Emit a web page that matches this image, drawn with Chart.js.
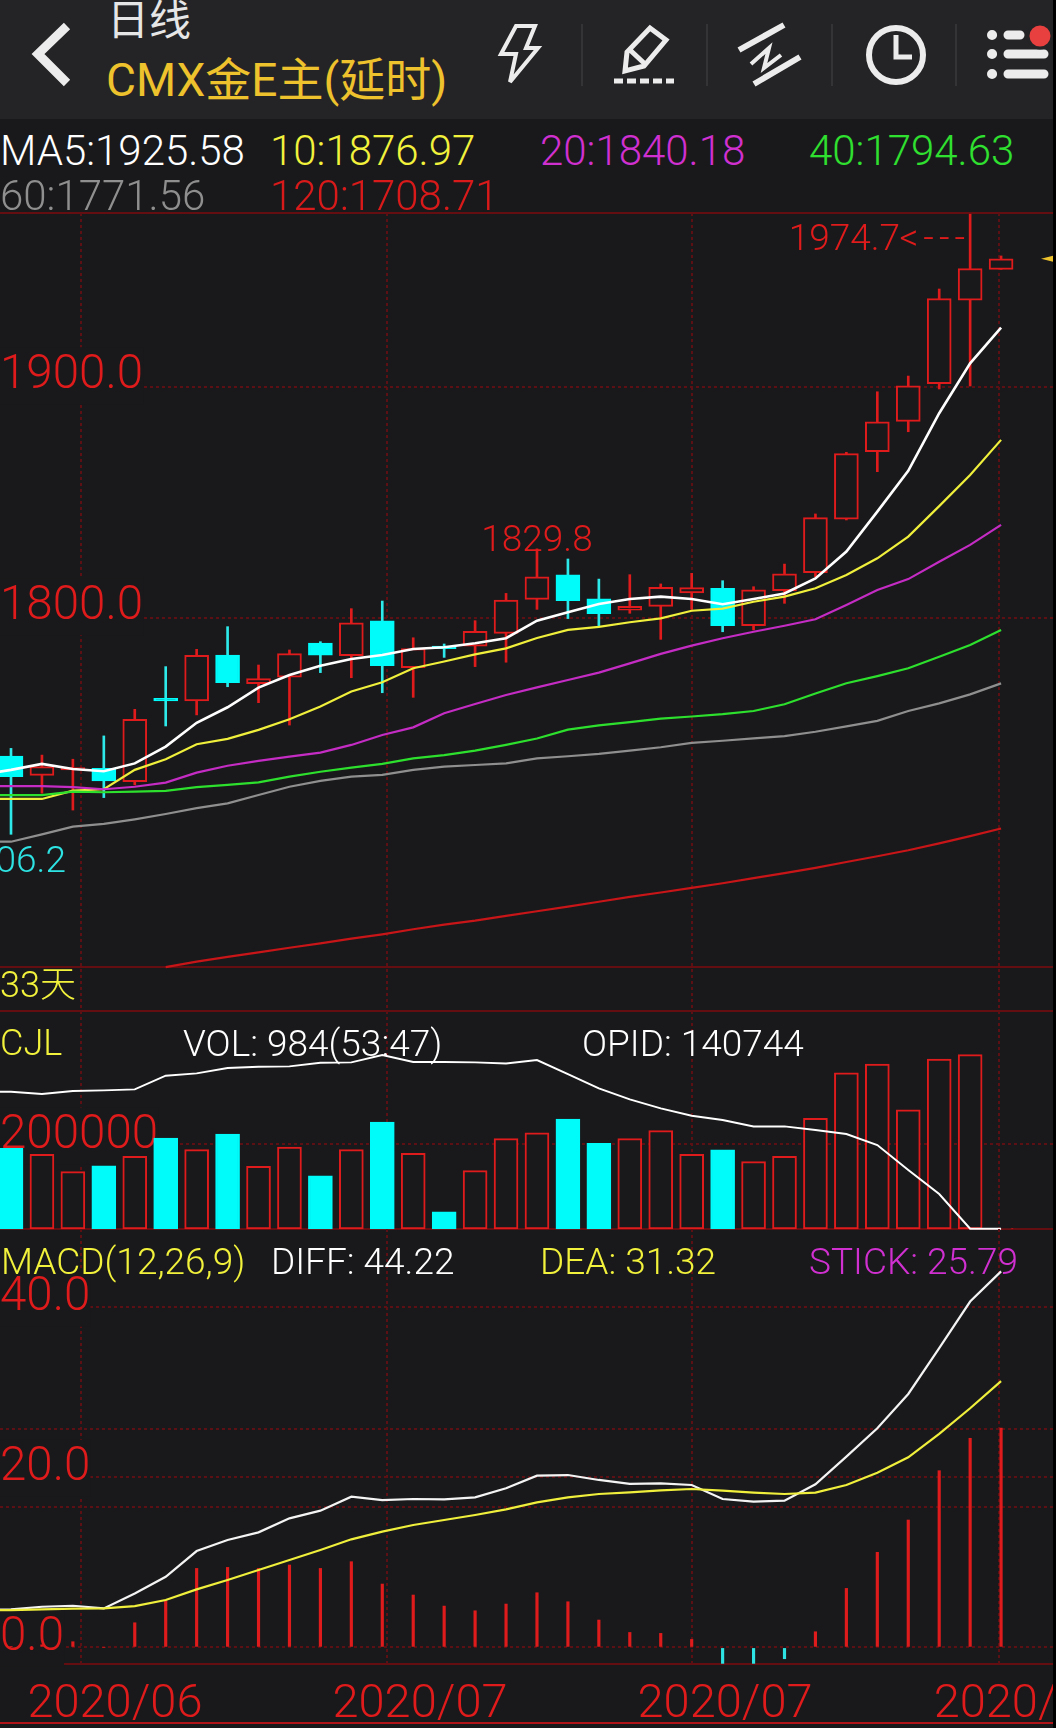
<!DOCTYPE html>
<html>
<head>
<meta charset="utf-8">
<script src="https://cdn.jsdelivr.net/npm/chart.js@4/dist/chart.umd.js"></script>
<style>
  html, body { margin: 0; padding: 0; background: #19191b; }
  #page { position: relative; width: 1056px; height: 1728px; overflow: hidden; background: #19191b;
    font-family: Roboto, "Noto Sans CJK SC", sans-serif; font-weight: 300; }
  #head { position: absolute; left: 0; top: 0; width: 1056px; height: 119px; background: #242426; }
  #head svg { position: absolute; left: 0; top: 0; }
  #edge { position: absolute; left: 1053px; top: 0; width: 3px; height: 1728px; background: #000; }
  canvas { position: absolute; left: 0; }
  .t { position: absolute; white-space: nowrap; line-height: 1; }
  .rule { position: absolute; left: 0; width: 1056px; height: 2px; background: #640e12; }
</style>
</head>
<body>
<div id="page">
  <div class="rule" style="top:212px"></div>
  <div class="rule" style="top:966px"></div>
  <div class="rule" style="top:1010px"></div>
  <div class="rule" style="top:1228px"></div>
  <div class="rule" style="top:1663px"></div>
  <div class="rule" style="top:1722px;background:#b01318"></div>

  <canvas id="mainChart" style="top:213px" width="1056" height="798"></canvas>
  <canvas id="volChart" style="top:1011px" width="1056" height="220"></canvas>
  <canvas id="macdChart" style="top:1229px" width="1056" height="499"></canvas>

  <div id="head">
    <svg width="1056" height="119" fill="none" stroke="#ececec" stroke-width="6">
      <path d="M67 26 L38 54 L67 83" stroke-width="9"/>
      <path d="M516 26 L535 26 L526 48 L538 48 L510 82 L516 54 L501 54 Z" stroke-width="4"/>
      <path d="M582 24V86M707 24V86M832 24V86M956 24V86" stroke="#3a3a3c" stroke-width="1.5"/>
      <path d="M625 71 L627 52 L650 28 L666 40 L644 66 Z M630 50 L645 64" stroke-width="5"/>
      <path d="M614 81h60" stroke-width="5" stroke-dasharray="9 4"/>
      <path d="M739 50 L784 25 M754 84 L800 57" stroke-width="6"/>
      <path d="M751 64 L769 48 L764 68 L781 55" stroke-width="4"/>
      <circle cx="896" cy="55" r="27" stroke-width="6"/>
      <path d="M896 35 V57 H912" stroke-width="5"/>
      <path d="M992 35h.1M992 54h.1M992 74h.1" stroke-width="10" stroke-linecap="round"/>
      <path d="M1008 35h12M1008 54h36M1008 74h36" stroke-width="9" stroke-linecap="round"/>
      <circle cx="1040" cy="36" r="12" fill="#e8403f" stroke="#242426" stroke-width="3"/>
    </svg>
    <div class="t" style="left:107px;top:0px;font-size:42px;color:#e6e6e6;font-weight:400">日线</div>
    <div class="t" style="left:106px;top:57px;font-size:46px;color:#eec22c;font-weight:400">CMX金E主(延时)</div>
  </div>

  <div class="t" style="left:0;top:130px;font-size:42px;color:#fff">MA5:1925.58</div>
  <div class="t" style="left:270px;top:130px;font-size:42px;color:#f2f23c">10:1876.97</div>
  <div class="t" style="left:540px;top:130px;font-size:42px;color:#d030d0">20:1840.18</div>
  <div class="t" style="left:809px;top:130px;font-size:42px;color:#30e030">40:1794.63</div>
  <div class="t" style="left:0;top:175px;font-size:42px;color:#8f8f8f">60:1771.56</div>
  <div class="t" style="left:270px;top:175px;font-size:42px;color:#d81a1a">120:1708.71</div>

  <div class="t" style="left:0;top:967px;font-size:36px;color:#f2f23c">33天</div>

  <div class="t" style="left:0;top:1025px;font-size:36px;color:#f2f23c">CJL</div>
  <div class="t" style="left:183px;top:1025px;font-size:37px;color:#fff">VOL: 984(53:47)</div>
  <div class="t" style="left:582px;top:1025px;font-size:37px;color:#fff">OPID: 140744</div>

  <div class="t" style="left:1px;top:1243px;font-size:37px;color:#f2f23c">MACD(12,26,9)</div>
  <div class="t" style="left:271px;top:1243px;font-size:37px;color:#fff">DIFF: 44.22</div>
  <div class="t" style="left:540px;top:1243px;font-size:37px;color:#f2f23c">DEA: 31.32</div>
  <div class="t" style="left:809px;top:1243px;font-size:37px;color:#d030d0">STICK: 25.79</div>
  <div id="edge"></div>
</div>

<script>
// 33 daily bars, oldest first
const opens  = [1740.1,1731.7,1734.1,1734.8,1729,1765.1,1763.9,1783.8,1771.4,1774.2,1789,1783.5,1798.6,1778.4,1787.7,1787.7,1793.2,
                1807.9,1818.5,1808.1,1803.2,1804.9,1810.7,1812.7,1796.5,1811.7,1819.5,1842.6,1871.9,1885,1901.3,1937.5,1950.8];
const closes = [1731.2,1735.5,1735.1,1729.3,1756,1763.9,1783.7,1771.9,1773.6,1784.4,1783.8,1797.8,1779.2,1786.6,1786.6,1794.1,1807.6,
                1817.7,1807.4,1801.7,1804.9,1813.1,1813,1796.5,1812.1,1819,1843.3,1871,1884.8,1900.4,1938.1,1951.1,1955.4];
const highs  = [1743.4,1740.5,1738.7,1748.8,1760.3,1778.8,1786.3,1796.1,1779.5,1786,1789.6,1803.9,1807.2,1791.3,1788.6,1798.7,1810.5,
                1829.8,1825.4,1816.7,1818.6,1814.6,1819.2,1816,1813.4,1823.2,1844.9,1871.6,1897.8,1904.6,1942.3,1974.7,1956.6];
const lows   = [1706.2,1724,1716.7,1722.1,1727.6,1753.1,1757.9,1770.1,1763.2,1753.5,1776.2,1774,1767.5,1765.5,1782.8,1778.8,1780.7,
                1803.6,1799.6,1796.1,1801.9,1790.6,1803.6,1793.9,1794.7,1806.2,1817.7,1842.3,1863.2,1880.5,1899,1900.3,1950.8];
const volumes = [189800,175800,135000,148400,171000,214000,186700,223400,147600,193000,125000,186700,251500,178100,40600,137500,212500,
                 226500,258600,201600,212500,231300,175800,186000,158600,171000,260200,367200,388300,280500,400000,410200,984];
const stick = [0.1,0.31,0.67,0,2.9,5.49,9.29,9.41,9.29,9.69,9.29,10.08,7.45,6.16,4.86,4.31,5.1,
               6.43,5.37,3.22,1.76,1.65,0.94,-1.88,-1.88,-1.33,1.84,6.94,11.18,14.98,20.78,24.59,25.79];

// line series start one day earlier, that day runs off the left edge
const ma5   = [1731.9,1734.1,1736.7,1734.5,1733.5,1736.9,1744.2,1754.5,1761.2,1769.7,1775.2,1779.2,1782.1,1783.8,1786.4,1787.2,1788.9,1791.1,
               1798.7,1802.3,1805.9,1808.1,1809.1,1808.1,1805.8,1808.1,1810.5,1817,1828.6,1845.9,1863.6,1888.5,1910.1,1925.58];
const ma10  = [1721.5,1721.5,1721.5,1725.1,1725.7,1734.1,1738.7,1745.2,1747.5,1751.4,1756,1761.5,1768,1772,1778.1,1781,1784.1,1786.7,
               1791.2,1794.7,1796,1798,1799.7,1803,1803.9,1806.9,1809.1,1812.7,1818.5,1825.7,1835.1,1848.3,1861.8,1876.97];
const ma20  = [1727.1,1727.1,1727.1,1726.6,1725.7,1726.8,1728.6,1732.9,1735.9,1738,1739.8,1741.6,1744.9,1749.2,1752.5,1758.6,1762.6,1766.5,
               1769.8,1773,1776.2,1780.2,1784.3,1787.9,1791.1,1793.9,1796.5,1799.3,1805.5,1812,1816.7,1824.2,1831.5,1840.18];
const ma40  = [1723.2,1723.2,1723.2,1724.7,1724.4,1724.7,1725,1726.6,1727.6,1728.7,1731.2,1733.3,1735.1,1736.7,1739.1,1740.5,1742.4,1744.9,
               1747.7,1751.5,1753.4,1754.8,1756.3,1757.2,1758.2,1759.6,1762.5,1767.2,1771.6,1774.7,1778.1,1783.1,1788.2,1794.63];
const ma60  = [1703,1703,1706.2,1709.5,1710.7,1712.7,1715,1717.5,1719.6,1723.2,1726.8,1729.3,1731.2,1731.9,1734.1,1735.5,1736.2,1736.9,
               1739.1,1740,1741,1742.4,1743.9,1745.8,1746.7,1747.7,1748.7,1750.6,1752.9,1755.3,1759.6,1762.9,1766.8,1771.56];
const ma120 = [null,null,null,null,null,null,1648.7,1651.1,1653.1,1655.1,1657.1,1659,1661,1662.9,1665.1,1667.1,1668.8,1670.9,
               1672.9,1674.9,1677,1679.1,1681,1683,1685,1687.2,1689.4,1691.7,1694.2,1696.7,1699.3,1702.3,1705.4,1708.71];
const opid  = [469000,469500,463900,471100,472700,475100,507900,513500,526300,529500,530300,539100,539900,557500,540700,540700,539900,537500,
               545500,511900,477500,451100,429500,411900,401500,386300,386300,377500,367900,341500,281500,223900,140744,140744];
const diff  = [4.4,4.47,4.78,4.9,4.59,6.35,8.31,11.33,12.63,13.53,15.18,16.08,17.73,17.33,17.45,17.41,17.65,18.71,
               20.2,20.27,19.69,19.22,19.29,19.1,17.45,17.14,17.25,19.18,22.43,25.76,29.8,35.18,40.67,44.22];
const dea   = [4.35,4.39,4.47,4.55,4.59,4.86,5.57,6.82,7.92,9.1,10.27,11.45,12.71,13.61,14.39,14.98,15.57,16.24,
               17.06,17.65,18.04,18.24,18.47,18.63,18.43,18.2,18.04,18.2,19.1,20.55,22.35,25.1,28.12,31.32];

// axis ticks
const priceTicks = [1900, 1800];
const volTicks   = [200000];
const macdGrid   = [40, 25.7, 20, 16.5, 0];
const macdLabels = [40, 20, 0];
const gridX      = [2.26, 12.15, 22.01, 31.93];     // vertical grid lines, in bar index
const dateTicks  = [3.36, 13.22, 23.08, 32.65];
const dateLabels = ['2020/06', '2020/07', '2020/07', '2020/07'];

const RED = '#e01b1b', CYAN = '#00fbfb', BG = '#19191b', GRID = '#5c1014';
const FONT = 'Roboto, sans-serif';

const xRange = { min: -11 / 30.94, max: (1056 - 11) / 30.94 };
const barPts = arr => arr.map((y, x) => ({ x, y }));
const linePts = arr => arr.map((y, i) => ({ x: i - 1, y }));
const isUp = i => closes[i] >= opens[i];

function xAxis() {
  return {
    type: 'linear', offset: false, ...xRange,
    afterBuildTicks: s => { s.ticks = gridX.map(value => ({ value })); },
    grid: { display: true, offset: false, color: GRID, lineWidth: 2, drawTicks: false },
    border: { display: false, dash: [3, 3] },
    ticks: { display: false }
  };
}

function yAxis(min, max, ticks, labels, fmt, labelOffset) {
  return {
    position: 'left', min, max,
    afterBuildTicks: s => { s.ticks = ticks.map(value => ({ value })); },
    afterFit: s => { s.width = 0; s.paddingTop = 0; s.paddingBottom = 0; },
    grid: { color: GRID, lineWidth: 2, drawTicks: false },
    border: { display: false, dash: [3, 3] },
    ticks: {
      mirror: true, padding: 0, autoSkip: false, labelOffset, color: RED,
      font: { family: FONT, size: 47.5, weight: '300' },
      showLabelBackdrop: true, backdropColor: BG, backdropPadding: 0,
      callback: v => labels.includes(v) ? fmt(v) : ''
    }
  };
}

const baseOptions = {
  responsive: false, animation: false, events: [],
  layout: { padding: 0 },
  plugins: { legend: { display: false }, tooltip: { enabled: false } }
};

// high / low / last price marks on the main panel
const priceMarks = {
  id: 'priceMarks',
  afterDatasetsDraw(chart) {
    const { ctx, scales: { x, y } } = chart;
    ctx.save();
    ctx.font = '300 37px ' + FONT;
    ctx.textBaseline = 'middle';
    ctx.fillStyle = RED;
    ctx.textAlign = 'center';
    ctx.fillText('1829.8', x.getPixelForValue(17), y.getPixelForValue(highs[17]) - 7);
    ctx.textAlign = 'right';
    const hx = x.getPixelForValue(31), hy = y.getPixelForValue(highs[31]) + 27;
    ctx.fillText('1974.7', hx - 70, hy);
    ctx.letterSpacing = '5px';
    ctx.fillText('<---', hx, hy);
    ctx.letterSpacing = '0px';
    ctx.fillStyle = '#2ee3e3';
    ctx.fillText('1706.2', x.getPixelForValue(0) + 55, y.getPixelForValue(lows[0]) + 28);
    const ly = y.getPixelForValue(closes[32]);
    ctx.fillStyle = '#eec22c';
    ctx.beginPath();
    ctx.moveTo(1041, ly); ctx.lineTo(1053, ly - 3); ctx.lineTo(1053, ly + 3); ctx.closePath();
    ctx.fill();
    ctx.restore();
  }
};

const line = (data, color, width, extra) => ({
  type: 'line', data: linePts(data), borderColor: color, borderWidth: width || 2.2,
  pointRadius: 0, tension: 0, fill: false, order: 1, ...extra
});

new Chart(document.getElementById('mainChart'), {
  type: 'bar',
  data: {
    datasets: [
      line(ma120, '#c81518'),
      line(ma60, '#8f8f8f'),
      line(ma40, '#2ee02e'),
      line(ma20, '#c42cc4'),
      line(ma10, '#efef3c'),
      line(ma5, '#ffffff', 2.6),
      { label: 'body', data: opens.map((o, i) => ({ x: i, y: [o, closes[i]] })), barThickness: 24, grouped: false, order: 2,
        backgroundColor: opens.map((_, i) => isUp(i) ? BG : CYAN),
        borderColor: opens.map((_, i) => isUp(i) ? RED : CYAN),
        borderWidth: 2, borderSkipped: false },
      { label: 'wick', data: lows.map((l, i) => ({ x: i, y: [l, highs[i]] })), barThickness: 2, grouped: false, order: 3,
        backgroundColor: lows.map((_, i) => isUp(i) ? RED : '#2ee9e9') }
    ]
  },
  options: { ...baseOptions, scales: {
    x: xAxis(),
    y: yAxis(1629.7, 1975.2, priceTicks, priceTicks, v => v.toFixed(1), -11)
  } },
  plugins: [priceMarks]
});

new Chart(document.getElementById('volChart'), {
  type: 'bar',
  data: {
    datasets: [
      line(opid, '#ffffff', 2, { yAxisID: 'y2' }),
      { data: barPts(volumes), barThickness: 24, grouped: false, order: 2,
        backgroundColor: volumes.map((_, i) => isUp(i) ? BG : CYAN),
        borderColor: volumes.map((_, i) => isUp(i) ? RED : CYAN),
        borderWidth: 2, borderSkipped: false }
    ]
  },
  options: { ...baseOptions, scales: {
    x: xAxis(),
    y: yAxis(-4706, 512941, volTicks, volTicks, v => String(v), -8),
    y2: { display: false, min: 135200, max: 663200 }
  } }
});

new Chart(document.getElementById('macdChart'), {
  type: 'bar',
  data: {
    datasets: [
      line(dea, '#efef3c'),
      line(diff, '#f4f4f4'),
      { data: barPts(stick), barThickness: 2.5, grouped: false, order: 2,
        backgroundColor: stick.map(v => v >= 0 ? RED : '#2ee3e3') }
    ]
  },
  options: { ...baseOptions, scales: {
    x: xAxis(),
    y: yAxis(-1.95, 49.2, macdGrid, macdLabels, v => v.toFixed(1), -9),
    xd: {
      type: 'linear', position: 'bottom', offset: false, ...xRange,
      afterBuildTicks: s => { s.ticks = dateTicks.map(value => ({ value })); },
      afterFit: s => { s.height = 64; s.paddingLeft = 0; s.paddingRight = 0; },
      grid: { display: false, offset: false, drawTicks: false },
      border: { display: false },
      ticks: {
        autoSkip: false, maxRotation: 0, minRotation: 0, padding: 13, color: RED,
        font: { family: FONT, size: 47, weight: '300' },
        callback: (v, i) => dateLabels[i]
      }
    }
  } }
});
</script>
</body>
</html>
